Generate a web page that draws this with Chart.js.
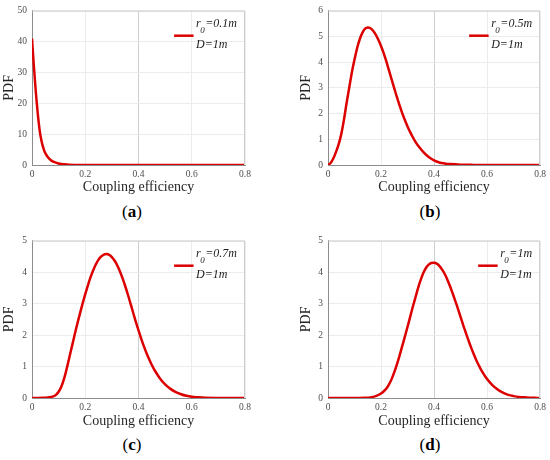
<!DOCTYPE html>
<html>
<head>
<meta charset="utf-8">
<script src="https://cdn.jsdelivr.net/npm/chart.js@4.4.1/dist/chart.umd.min.js"></script>
<style>
html,body{margin:0;padding:0;background:#fff;width:550px;height:460px;overflow:hidden}
canvas{position:absolute;display:block}
.lab{position:absolute;width:60px;height:20px;line-height:20px;text-align:center;font-family:"Liberation Serif","DejaVu Serif",serif;font-size:17px;color:#000}
</style>
</head>
<body>
<canvas id="ca" width="275" height="200" style="left:0;top:0;width:275px;height:200px"></canvas>
<canvas id="cb" width="275" height="200" style="left:275px;top:0;width:275px;height:200px"></canvas>
<canvas id="cc" width="275" height="204" style="left:0;top:230px;width:275px;height:204px"></canvas>
<canvas id="cd" width="275" height="204" style="left:275px;top:230px;width:275px;height:204px"></canvas>
<div class="lab" style="left:102px;top:202px">(<b>a</b>)</div>
<div class="lab" style="left:400px;top:202px">(<b>b</b>)</div>
<div class="lab" style="left:102px;top:435px">(<b>c</b>)</div>
<div class="lab" style="left:400px;top:435px">(<b>d</b>)</div>
<script>
// ---- data ----
const xTickLabels = ['0', '0.2', '0.4', '0.6', '0.8'];
const xTitle = 'Coupling efficiency';
const yTitle = 'PDF';
const legendR0 = ['=0.1m', '=0.5m', '=0.7m', '=1m'];
const legendD = 'D=1m';

// (a) r0 = 0.1 m
const xA = [0,0.005,0.01,0.015,0.02,0.025,0.03,0.035,0.04,0.045,0.05,0.06,0.07,0.08,0.09,0.1,0.11,0.12,0.14,0.16,0.2,0.3,0.4,0.5,0.6,0.7,0.8];
const yA = [41,34.5,28.6,23,18.2,13.9,10.5,8.1,6.3,4.9,3.85,2.5,1.65,1.1,0.75,0.5,0.33,0.22,0.09,0.04,0.01,0,0,0,0,0,0];

// (b) r0 = 0.5 m
const xB = [0,0.01,0.02,0.03,0.04,0.05,0.06,0.07,0.08,0.09,0.1,0.11,0.12,0.13,0.14,0.15,0.16,0.17,0.18,0.19,0.2,0.21,0.22,0.23,0.24,0.25,0.26,0.27,0.28,0.29,0.3,0.31,0.32,0.33,0.34,0.36,0.38,0.4,0.42,0.44,0.46,0.5,0.55,0.6,0.7,0.8];
const yB = [0,0.08,0.25,0.5,0.8,1.2,1.75,2.4,3.0,3.6,4.1,4.55,4.9,5.15,5.3,5.35,5.32,5.22,5.07,4.87,4.63,4.35,4.03,3.68,3.33,2.98,2.64,2.32,2.02,1.75,1.5,1.28,1.08,0.9,0.75,0.5,0.31,0.18,0.1,0.06,0.035,0.012,0.004,0.001,0,0];

// (c) r0 = 0.7 m
const xC = [0,0.02,0.04,0.06,0.08,0.09,0.1,0.11,0.12,0.13,0.14,0.15,0.16,0.17,0.18,0.19,0.2,0.21,0.22,0.23,0.24,0.25,0.26,0.27,0.28,0.29,0.3,0.31,0.32,0.33,0.34,0.35,0.36,0.37,0.38,0.39,0.4,0.41,0.42,0.43,0.44,0.45,0.46,0.48,0.5,0.52,0.54,0.56,0.58,0.6,0.62,0.65,0.7,0.75,0.8];
const yC = [0,0,0.005,0.02,0.05,0.1,0.2,0.36,0.6,0.92,1.28,1.64,2.0,2.35,2.68,3.0,3.3,3.58,3.84,4.06,4.25,4.4,4.5,4.56,4.58,4.55,4.48,4.37,4.22,4.03,3.81,3.56,3.29,3.0,2.71,2.42,2.15,1.89,1.65,1.43,1.23,1.05,0.89,0.63,0.43,0.29,0.19,0.12,0.07,0.04,0.025,0.01,0.003,0,0];

// (d) r0 = 1 m
const xD = [0,0.04,0.08,0.12,0.14,0.16,0.18,0.2,0.22,0.23,0.24,0.25,0.26,0.27,0.28,0.29,0.3,0.31,0.32,0.33,0.34,0.35,0.36,0.37,0.38,0.39,0.4,0.41,0.42,0.43,0.44,0.45,0.46,0.47,0.48,0.49,0.5,0.51,0.52,0.53,0.54,0.55,0.56,0.57,0.58,0.6,0.62,0.64,0.66,0.68,0.7,0.72,0.74,0.76,0.78,0.8];
const yD = [0,0,0,0,0.005,0.02,0.06,0.14,0.3,0.43,0.6,0.82,1.07,1.35,1.65,1.95,2.26,2.58,2.9,3.2,3.5,3.76,3.98,4.14,4.24,4.29,4.3,4.27,4.2,4.09,3.95,3.77,3.56,3.33,3.09,2.84,2.58,2.32,2.07,1.83,1.6,1.39,1.19,1.02,0.86,0.6,0.41,0.27,0.17,0.1,0.06,0.035,0.02,0.01,0.005,0.003];

const yMaxes = [50, 6, 5, 5];
const ySteps = [10, 1, 1, 1];

// ---- drawing ----
const SERIF = '"Liberation Serif","DejaVu Serif",serif';
const RED = '#dc0000';

const framePlugin = {
  id: 'frame',
  afterDraw(chart) {
    const {ctx, chartArea: a} = chart;
    ctx.save();
    ctx.strokeStyle = '#cdcdcd';
    ctx.lineWidth = 1;
    ctx.beginPath();
    ctx.moveTo(a.left, a.top + 0.5);
    ctx.lineTo(a.right - 0.5, a.top + 0.5);
    ctx.lineTo(a.right - 0.5, a.bottom);
    ctx.stroke();
    ctx.restore();
  }
};

const legendPlugin = {
  id: 'pdfLegend',
  afterDraw(chart, args, opts) {
    const {ctx, chartArea: {top, right}} = chart;
    const big = 'italic 12px ' + SERIF;
    const small = 'italic 9px ' + SERIF;
    ctx.save();
    ctx.font = big;
    const wr = ctx.measureText('r').width;
    const wRest = ctx.measureText(opts.rest).width;
    const wD = ctx.measureText(opts.d).width;
    ctx.font = small;
    const w0 = ctx.measureText('0').width;
    const tw = Math.max(wr + w0 + wRest, wD);
    const tx = right - 8 - tw;
    ctx.strokeStyle = RED;
    ctx.lineWidth = 2.5;
    ctx.beginPath();
    ctx.moveTo(tx - 22, top + 25);
    ctx.lineTo(tx - 2.5, top + 25);
    ctx.stroke();
    ctx.fillStyle = '#222';
    ctx.textAlign = 'left';
    ctx.textBaseline = 'alphabetic';
    ctx.font = big;
    ctx.fillText('r', tx, top + 16);
    ctx.font = small;
    ctx.fillText('0', tx + wr - 0.5, top + 22);
    ctx.font = big;
    ctx.fillText(opts.rest, tx + wr + w0, top + 16);
    ctx.fillText(opts.d, tx, top + 37);
    ctx.restore();
  }
};

function makeChart(id, xs, ys, yMax, yStep, pad, yWidth, xHeight, rest) {
  const pts = xs.map((x, i) => ({x: x, y: ys[i]}));
  return new Chart(document.getElementById(id), {
    type: 'line',
    data: {datasets: [{
      data: pts,
      borderColor: RED,
      borderWidth: 2.5,
      pointRadius: 0,
      fill: false,
      tension: 0.35
    }]},
    options: {
      responsive: false,
      animation: false,
      devicePixelRatio: window.devicePixelRatio || 1,
      layout: {padding: pad},
      plugins: {
        legend: {display: false},
        tooltip: {enabled: false},
        pdfLegend: {rest: rest, d: legendD}
      },
      scales: {
        x: {
          type: 'linear', min: 0, max: 0.8,
          afterFit(s) { s.height = xHeight; },
          ticks: {
            stepSize: 0.2, padding: 4, maxRotation: 0,
            color: '#4d4d4d',
            font: {family: SERIF, size: 9.5},
            callback: (v, i) => xTickLabels[i]
          },
          grid: {
            drawTicks: false,
            color: c => (c.tick && Math.abs(c.tick.value - 0.4) < 1e-6) ? '#cfcfcf' : '#ececec',
            lineWidth: 1
          },
          border: {display: true, color: '#8c8c8c', width: 1},
          title: {display: true, text: xTitle, color: '#262626', font: {family: SERIF, size: 14}, padding: {top: 0, bottom: 4}}
        },
        y: {
          type: 'linear', min: 0, max: yMax,
          afterFit(s) { s.width = yWidth; },
          ticks: {
            stepSize: yStep, padding: 5,
            color: '#4d4d4d',
            font: {family: SERIF, size: 9.5}
          },
          grid: {drawTicks: false, color: '#ececec', lineWidth: 1},
          border: {display: true, color: '#8c8c8c', width: 1},
          title: {display: true, text: yTitle, color: '#262626', font: {family: SERIF, size: 14}, padding: {top: 1, bottom: 0}}
        }
      }
    },
    plugins: [framePlugin, legendPlugin]
  });
}

makeChart('ca', xA, yA, yMaxes[0], ySteps[0], {left: 0, top: 8, right: 30, bottom: 0}, 32, 35, legendR0[0]);
makeChart('cb', xB, yB, yMaxes[1], ySteps[1], {left: 22, top: 8, right: 8, bottom: 0}, 31, 35, legendR0[1]);
makeChart('cc', xC, yC, yMaxes[2], ySteps[2], {left: 0, top: 10, right: 30, bottom: 0}, 32, 36, legendR0[2]);
makeChart('cd', xD, yD, yMaxes[3], ySteps[3], {left: 22, top: 10, right: 8, bottom: 0}, 31, 36, legendR0[3]);
</script>
</body>
</html>
